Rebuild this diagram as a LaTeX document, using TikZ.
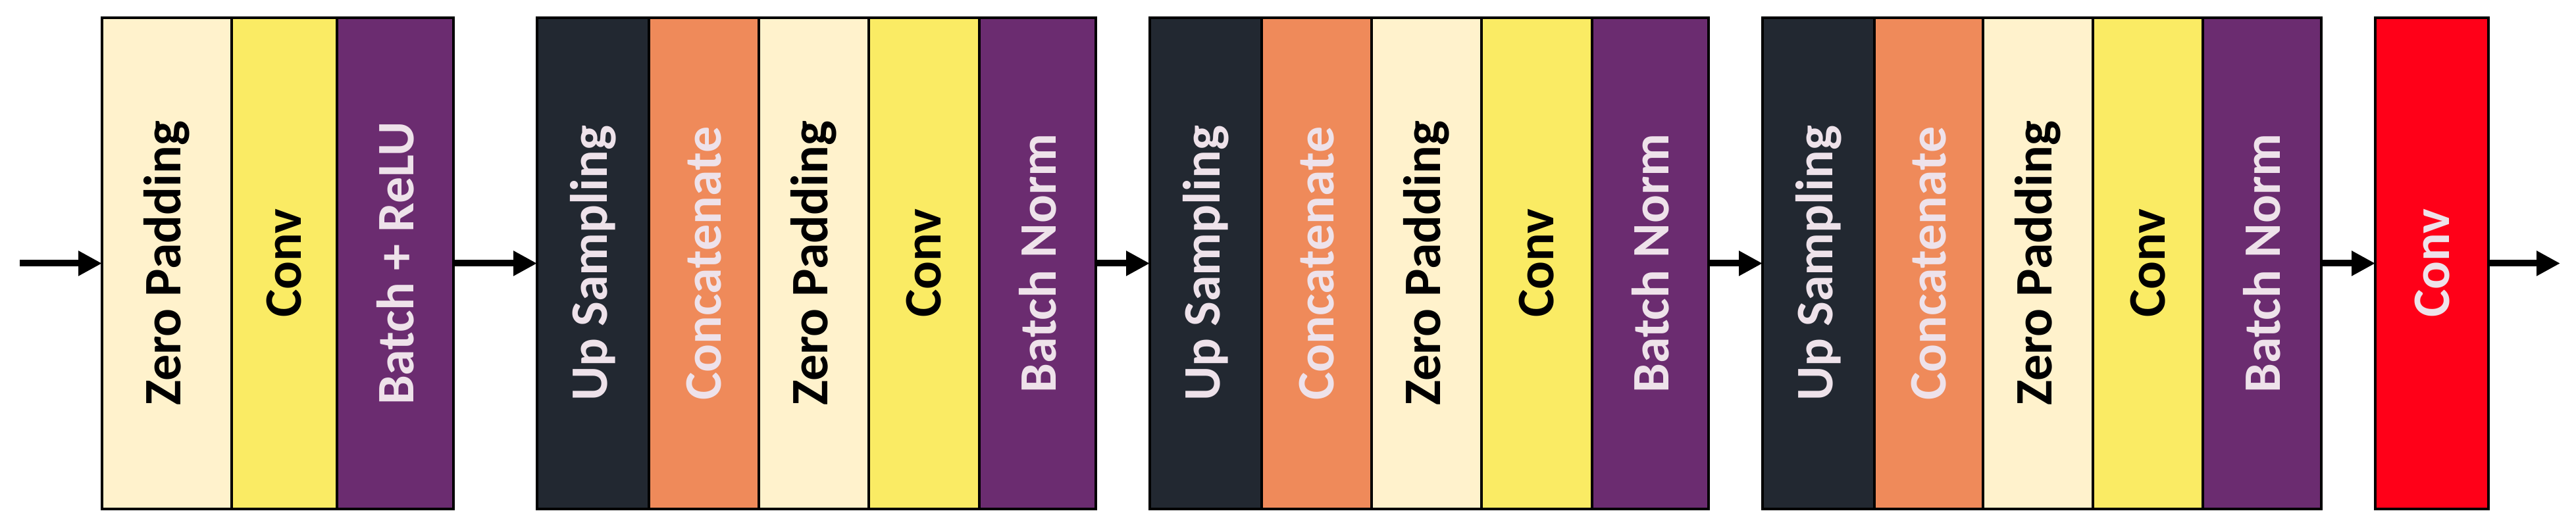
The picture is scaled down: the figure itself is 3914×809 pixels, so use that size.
\documentclass[tikz,border=0pt]{standalone}
\usepackage{fontspec}
\setmainfont{Carlito}
\usetikzlibrary{arrows.meta}
\definecolor{cream}{HTML}{FFF2CC}
\definecolor{yel}{HTML}{FAEB64}
\definecolor{purp}{HTML}{6B2C70}
\definecolor{dark}{HTML}{222831}
\definecolor{orng}{HTML}{EF8A5A}
\definecolor{redc}{HTML}{FF0018}
\definecolor{lighttxt}{HTML}{EEE2EA}
\tikzset{
  cellbox/.style={draw=black,line width=0.8pt,rotate=90,inner sep=0pt,outer sep=0pt,
    minimum width=186.75pt,font=\fontsize{20}{24}\selectfont\bfseries},
  flow/.style={line width=2.5pt,-{Triangle[length=9pt,width=9pt]}}
}
\newcommand\mycell[6]{\node[cellbox,fill=#4,text=#5,minimum height=#3*0.25pt] (#1) at (#2,400.5) {#6};}
\begin{document}
\begin{tikzpicture}[x=0.25pt,y=-0.25pt]
\useasboundingbox (0,0) rectangle (3914,809);
\mycell{a1}{253.5}{197}{cream}{black}{Zero Padding}
\mycell{a2}{432}{160}{yel}{black}{Conv}
\mycell{a3}{600.5}{177}{purp}{lighttxt}{Batch + ReLU}
\mycell{b1}{901}{170}{dark}{lighttxt}{Up Sampling}
\mycell{b2}{1069.5}{167}{orng}{lighttxt}{Concatenate}
\mycell{b3}{1236.5}{167}{cream}{black}{Zero Padding}
\mycell{b4}{1404}{168}{yel}{black}{Conv}
\mycell{b5}{1576.5}{177}{purp}{lighttxt}{Batch Norm}
\mycell{c1}{1832}{170}{dark}{lighttxt}{Up Sampling}
\mycell{c2}{2000.5}{167}{orng}{lighttxt}{Concatenate}
\mycell{c3}{2167.5}{167}{cream}{black}{Zero Padding}
\mycell{c4}{2335}{168}{yel}{black}{Conv}
\mycell{c5}{2507.5}{177}{purp}{lighttxt}{Batch Norm}
\mycell{d1}{2763}{170}{dark}{lighttxt}{Up Sampling}
\mycell{d2}{2930.5}{165}{orng}{lighttxt}{Concatenate}
\mycell{d3}{3096.5}{167}{cream}{black}{Zero Padding}
\mycell{d4}{3263.5}{167}{yel}{black}{Conv}
\mycell{d5}{3437}{180}{purp}{lighttxt}{Batch Norm}
\mycell{e1}{3695}{172}{redc}{lighttxt}{Conv}
\coordinate (in) at (30,400.5);
\coordinate (out) at (3890,400.5);
\draw[flow] (in) -- (a1.north);
\draw[flow] (a3.south) -- (b1.north);
\draw[flow] (b5.south) -- (c1.north);
\draw[flow] (c5.south) -- (d1.north);
\draw[flow] (d5.south) -- (e1.north);
\draw[flow] (e1.south) -- (out);
\end{tikzpicture}
\end{document}
